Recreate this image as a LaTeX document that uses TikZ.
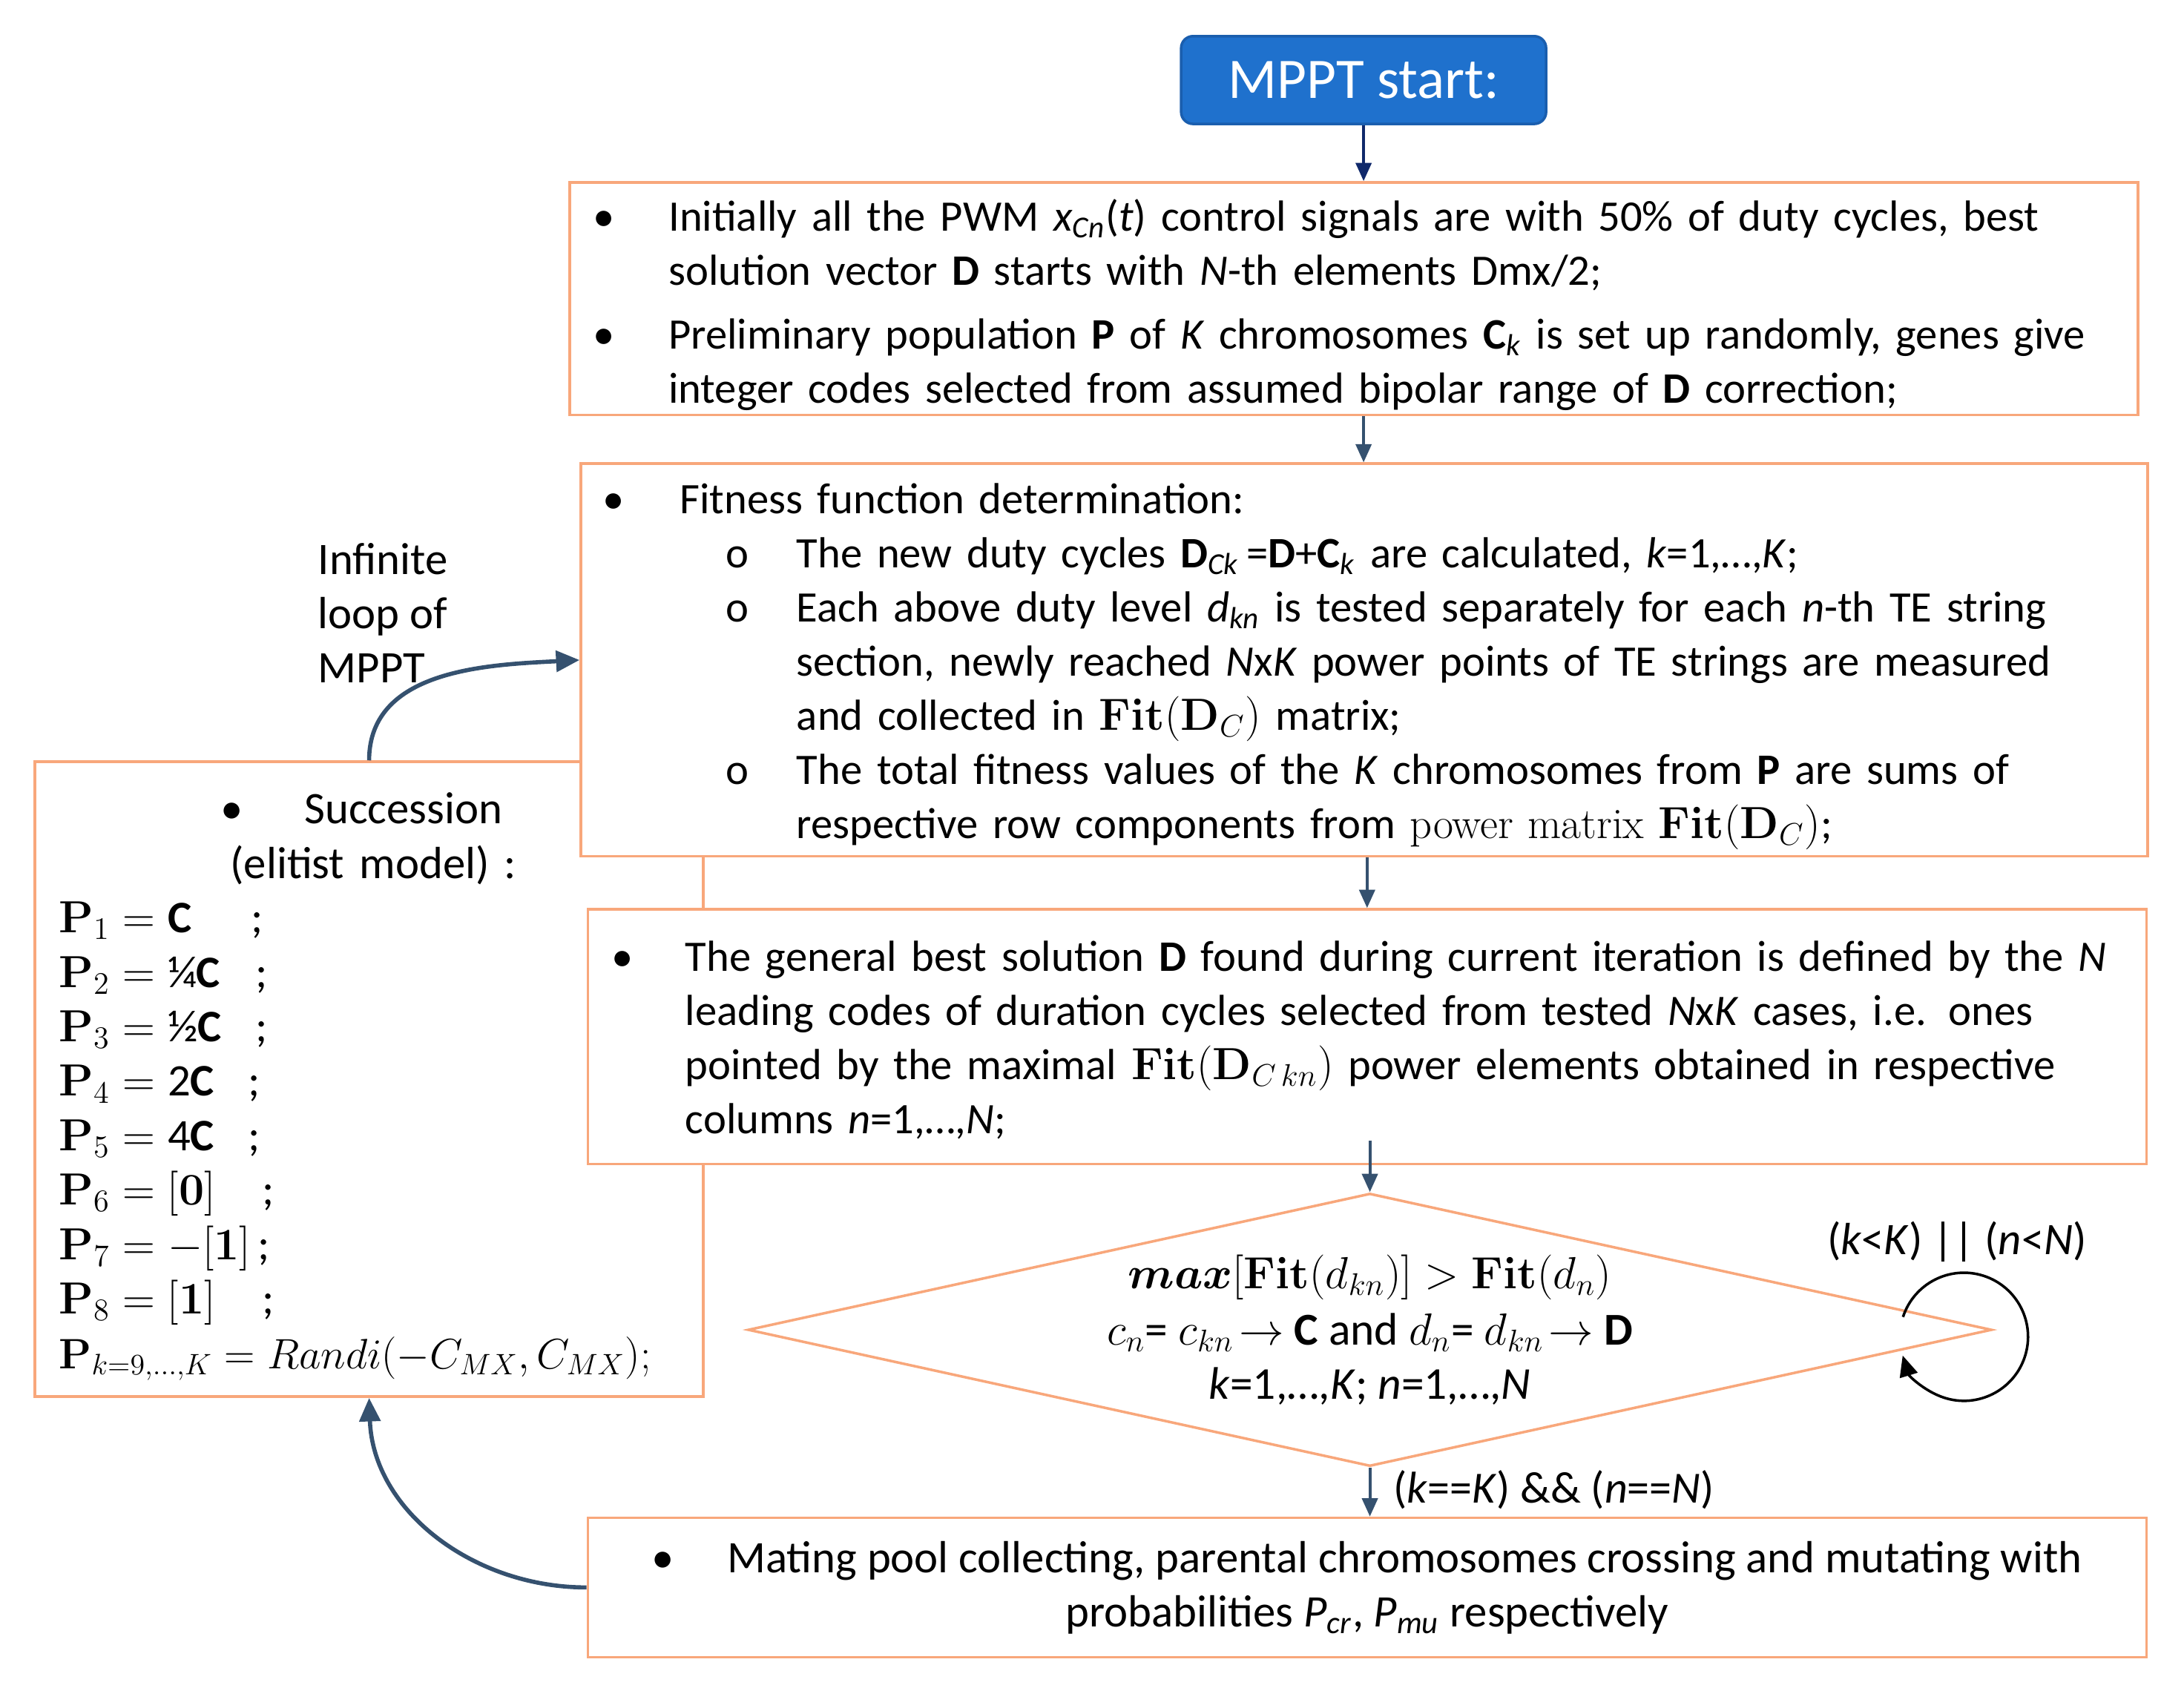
\documentclass[tikz,border=0pt]{standalone}
\usepackage{amsmath,amssymb,bm}
\usepackage{graphicx}
\usepackage[no-math]{fontspec}
\setmainfont{Carlito}
\usepackage{xcolor}
\usepackage{tikz}
\usetikzlibrary{shapes.geometric}
\usetikzlibrary{arrows.meta,positioning,calc}

\newlength{\upx}\setlength{\upx}{0.018776cm}
\definecolor{boxline}{HTML}{F8A77B}
\definecolor{mpptblue}{HTML}{1F71CD}
\definecolor{mpptedge}{HTML}{1A5EAE}
\definecolor{navy}{HTML}{10296B}
\definecolor{slate}{HTML}{35516F}

\tikzset{box/.style={draw=boxline,line width=1pt,fill=white,inner sep=0pt}}
\tikzset{txt/.style={font=\fontsize{16.7}{20.8}\selectfont}}
\tikzset{bigtxt/.style={font=\fontsize{17.3}{20.8}\selectfont}}
\tikzset{flow/.style={-{Triangle[length=7pt,width=6pt]},draw=slate,line width=1.1pt}}
\tikzset{loopflow/.style={-{Triangle[length=9pt,width=8pt]},draw=slate,line width=1.6pt}}

\newcommand{\itm}[3]{\par\noindent\hangindent=#2\hangafter=1\hbox to #2{\hskip #1#3\hfil}\ignorespaces}
\newcommand{\nl}{\hfil\break}
\newcommand{\lift}[1]{\vspace*{-#1}\par}
\newcommand{\fitD}[1]{$\mathbf{Fit}(\mathbf{D}_{#1})$}

\begin{document}
\begin{tikzpicture}[x=\upx,y=\upx]
  \useasboundingbox (0,0) rectangle (1568,1212);

  % start
  \node[rounded corners=0.16cm,fill=mpptblue,draw=mpptedge,line width=1pt,text=white,
        font=\fontsize{22}{26}\selectfont,minimum width=262*\upx,minimum height=63*\upx]
        (start) at (979,1154.5) {MPPT start:};

  % boxes
  \node[box,txt,text width=1078*\upx,inner xsep=24*\upx,minimum height=167*\upx]
        (init) at (972,997.5) {\lift{7\upx}%
    \itm{-7\upx}{47\upx}{\textbullet}Initially all the PWM \textit{x}\textsubscript{\textit{Cn}}(\textit{t}) control signals are with 50\% of duty cycles, best\nl
    solution vector \textbf{D} starts with \textit{N}-th elements Dmx/2;\par
    \vspace{7\upx}
    \itm{-7\upx}{47\upx}{\textbullet}Preliminary population \textbf{P} of \textit{K} chromosomes \textbf{C}\textsubscript{\textit{k}} is set up randomly, genes give\nl
    integer codes selected from assumed bipolar range of \textbf{D} correction;\par};

  \node[box,fill=none,minimum width=480*\upx,minimum height=456*\upx] (succ) at (265,437) {};
  \node[font=\fontsize{17.3}{20.9}\selectfont,text width=446*\upx,inner sep=0pt,anchor=north west]
        (succtxt) at (42,643) {%
    \noindent\hspace*{116\upx}\textbullet\hspace{44\upx}Succession\nl
    \hspace*{123\upx}(elitist model) :\nl
    \makebox[138\upx][l]{$\mathbf{P}_1 = \text{\bfseries C}$};\nl
    \makebox[141\upx][l]{$\mathbf{P}_2 = \text{¼\bfseries C}$};\nl
    \makebox[141\upx][l]{$\mathbf{P}_3 = \text{½\bfseries C}$};\nl
    \makebox[136\upx][l]{$\mathbf{P}_4 = \text{2\bfseries C}$};\nl
    \makebox[136\upx][l]{$\mathbf{P}_5 = \text{4\bfseries C}$};\nl
    \makebox[146\upx][l]{$\mathbf{P}_6 = [\mathbf{0}]$};\nl
    $\mathbf{P}_7 = -[\mathbf{1}]$\,;\nl
    \makebox[146\upx][l]{$\mathbf{P}_8 = [\mathbf{1}]$};\nl
    \resizebox{425\upx}{!}{$\mathbf{P}_{k=9,\dots,K} = Randi(-C_{MX},C_{MX});$}\par};

  \node[box,txt,text width=1079*\upx,inner xsep=23*\upx,minimum height=282*\upx]
        (fit) at (979.5,738) {\lift{8\upx}%
    \itm{-7\upx}{48\upx}{\textbullet}Fitness function determination:\par
    \itm{81\upx}{132\upx}{o}The new duty cycles \textbf{D}\textsubscript{\textit{Ck}}\,=\textbf{D}+\textbf{C}\textsubscript{\textit{k}} are calculated, \textit{k}=1,…,\textit{K};\par
    \itm{81\upx}{132\upx}{o}Each above duty level \textit{d}\textsubscript{\textit{kn}} is tested separately for each \textit{n}-th TE string\nl
    section, newly reached \textit{N}x\textit{K} power points of TE strings are measured\nl
    and collected in \fitD{C} matrix;\par
    \itm{81\upx}{132\upx}{o}The total fitness values of the \textit{K} chromosomes from \textbf{P} are sums of\nl
    respective row components from {\fontfamily{lmr}\selectfont power matrix} \fitD{C};\par};

  \node[box,txt,text width=1071*\upx,inner xsep=24*\upx,minimum height=183*\upx]
        (best) at (981.5,467.5) {\lift{12\upx}%
    \itm{-7\upx}{46\upx}{\textbullet}The general best solution \textbf{D} found during current iteration is defined by the \textit{N}\nl
    leading codes of duration cycles selected from tested \textit{N}x\textit{K} cases, i.e. ones\nl
    pointed by the maximal \fitD{C\,kn} power elements obtained in respective\nl
    columns \textit{n}=1,…,\textit{N};\par};

  \node[diamond,draw=boxline,line width=1pt,inner sep=0pt,minimum width=893*\upx,
        minimum height=196*\upx] (dec) at (983.5,257) {};
  \node[font=\fontsize{17.5}{20.8}\selectfont,align=center] (dectxt) at (dec) {%
    $\bm{max}[\mathbf{Fit}(d_{kn})] > \mathbf{Fit}(d_n)$\\[1pt]
    $c_n$= $c_{kn}\!\rightarrow$ \textbf{C} and $d_n$= $d_{kn}\!\rightarrow$ \textbf{D}\\
    \textit{k}=1,…,\textit{K}; \textit{n}=1,…,\textit{N}};

  \node[box,font=\fontsize{17.3}{20.8}\selectfont,minimum width=1119*\upx,minimum height=100*\upx,align=center]
        (mate) at (981.5,72) {%
    \textbullet\hspace{38\upx}Mating pool collecting, parental chromosomes crossing and mutating with\\
    probabilities \textit{P}\textsubscript{\textit{cr}}, \textit{P}\textsubscript{\textit{mu}} respectively};

  % labels
  \node[bigtxt,align=left,anchor=west,inner sep=0pt] (inf) at (228,772) {Infinite\\loop of\\MPPT};
  \node[bigtxt] (again) at (1405,320) {(\textit{k}<\textit{K}) || (\textit{n}<\textit{N})};
  \node[font=\fontsize{17.1}{20.8}\selectfont,anchor=west,inner sep=0pt] (done) at (1000,142)
        {(\textit{k}==\textit{K}) \&\& (\textit{n}==\textit{N})};

  % connectors
  \draw[flow,draw=navy] (start) -- (start |- init.north);
  \draw[flow] (init.south -| start) -- (fit.north -| start);
  \draw[flow] (fit.south -| best) -- (best.north -| best);
  \draw[flow] ([yshift=18*\upx]best.south -| dec) -- (dec.north);
  \draw[flow] (dec.south) -- (mate.north -| dec);
  \coordinate (loopc) at (1410,252);
  \draw[-{Triangle[length=8pt,width=7pt]},line width=1pt]
        ($(loopc)+(162:46)$) arc[start angle=162,end angle=-163,radius=46*\upx];
  \draw[loopflow] (succ.north) to[out=90,in=183] (fit.west);
  \draw[loopflow] (mate.west) to[out=180,in=-88] (succ.south);
\end{tikzpicture}
\end{document}
